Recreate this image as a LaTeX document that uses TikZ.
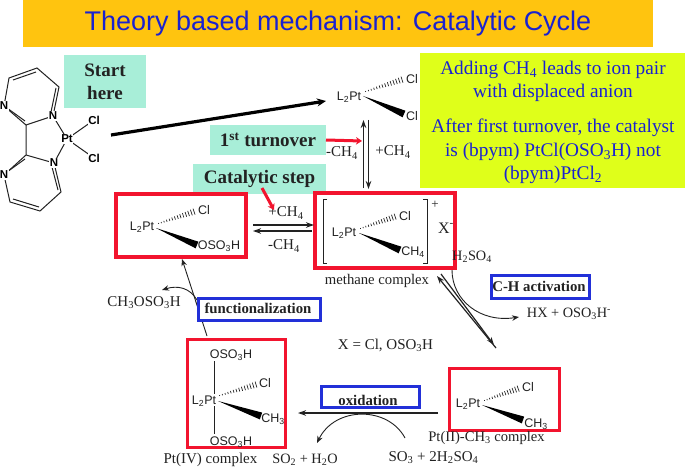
\documentclass[tikz,border=0pt]{standalone}
\usepackage{fontspec}
\setmainfont{Liberation Serif}
\setsansfont{Liberation Sans}
\usetikzlibrary{calc,arrows.meta}
\definecolor{titlebg}{HTML}{FFC40F}
\definecolor{titleblue}{HTML}{1A22D0}
\definecolor{mint}{HTML}{A8EED8}
\definecolor{lemon}{HTML}{DFFF1A}
\definecolor{boxred}{HTML}{F2142E}
\definecolor{boxblue}{HTML}{2230D8}
\definecolor{ink}{HTML}{222222}
\newcommand{\fsz}[1]{\fontsize{#1}{#1}\selectfont}
\newcommand{\sbs}[1]{\textsubscript{#1}}
\newcommand{\hashbond}[2]{%
  \foreach \t in {0.04,0.11,...,1.0}{%
    \coordinate (hp) at ($(#1)!\t!(#2)$);
    \pgfmathsetmacro{\hw}{0.3+3.0*\t}
    \draw[ink,line width=0.7pt] ($(hp)!\hw pt!90:(#2)$) -- ($(hp)!\hw pt!-90:(#2)$);
  }}
\newcommand{\wedgebond}[2]{%
  \fill[black] (#1) -- ($(#2)!3.6pt!90:(#1)$) -- ($(#2)!3.6pt!-90:(#1)$) -- cycle;}
\tikzset{
  x=1pt,y=-1pt,
  every node/.style={inner sep=0pt,outer sep=0pt,text=ink},
  redbox/.style={draw=boxred,line width=3.6pt,fill=none,shape=rectangle},
  bluebox/.style={draw=boxblue,line width=3pt,fill=white,shape=rectangle},
  mintbox/.style={fill=mint,shape=rectangle,align=center,font=\fsz{19}\bfseries,text=ink},
  sanslab/.style={font=\sffamily\fsz{12.5},text=ink},
  atomlab/.style={font=\sffamily\bfseries\fsz{11.5},text=black,fill=white,inner sep=0.6pt},
  serlab/.style={font=\fsz{15},text=ink},
  serlabs/.style={font=\fsz{14.3},text=ink},
  boxlab/.style={font=\fsz{14.8}\bfseries,text=ink},
  lemontext/.style={font=\fsz{19.3},text=titleblue},
  thinarrow/.style={ink,line width=0.9pt,-{Stealth[length=7pt,width=5.5pt]}},
  eqarrow/.style={ink,line width=1.2pt,-{Stealth[length=8pt,width=5.5pt]}},
  redarrow/.style={boxred,line width=3pt,-{Stealth[length=6pt,width=7.5pt]}},
  ringbond/.style={ink,line width=1pt},
}
\begin{document}
\begin{tikzpicture}
\useasboundingbox (0,0) rectangle (685,468);
\fill[white] (0,0) rectangle (685,468);
% title
\node[fill=titlebg,minimum width=630pt,minimum height=47pt] (titlebar) at (338,23.5) {};
\node[font=\sffamily\fsz{27},text=titleblue] (title) at (338,24) {Theory based mechanism: Catalytic Cycle};
% yellow box
\node[fill=lemon,minimum width=265pt,minimum height=135pt] (yellow) at (552.5,120.5) {};
\node[lemontext] (y1) at (553,70) {Adding CH\sbs{4} leads to ion pair};
\node[lemontext] (y2) at (553,93) {with displaced anion};
\node[lemontext] (y3) at (553,128) {After first turnover, the catalyst};
\node[lemontext] (y4) at (553,151.5) {is (bpym) PtCl(OSO\sbs{3}H) not};
\node[lemontext] (y5) at (553,175) {(bpym)PtCl\sbs{2}};
% bipyrimidine
\foreach \n/\x/\y in {a/9/78,b/37/68,c/59/87,d/53/116,e/26/125,f/4/106,g/26/155,h/4/175,i/10/202,j/40/211,k/61/192,l/54/163,pt/67/139,cla/94/120,clb/94/158}{\coordinate (\n) at (\x,\y);}
\draw[ringbond] (f)--(a)--(b)--(c)--(d)--(e)--(f) (e)--(g)--(h)--(i)--(j)--(k)--(l)--(g);
\draw[ringbond] (13,80)--(36,72) (56,88)--(51,112) (7,108)--(25,121) (7,172)--(25,159) (13,199)--(39,207) (58,190)--(52,167);
\draw[ringbond] (d)--(pt)--(l) (pt)--(cla) (pt)--(clb);
\node[atomlab] at (f) {N};
\node[atomlab] at (d) {N};
\node[atomlab] at (h) {N};
\node[atomlab] at (l) {N};
\node[atomlab] (ptatom) at (pt) {Pt};
\node[atomlab] at (cla) {Cl};
\node[atomlab] at (clb) {Cl};
% mint labels
\node[mintbox,minimum width=82pt,minimum height=53pt] (start) at (105,81.5) {Start\\[4pt]here};
\node[mintbox,minimum width=116pt,minimum height=30pt] (first) at (268,140) {1\textsuperscript{st} turnover};
\node[mintbox,minimum width=133pt,minimum height=30pt] (catal) at (259.5,179) {Catalytic step};
% starting arrow
\coordinate (bigs) at (111,135);
\coordinate (bige) at (326,101);
\draw[black,line width=3.2pt,-{Stealth[length=9pt,width=8pt]}] (bigs) -- (bige);
% top complex
\node[sanslab] (lpta) at (349,97) {L\sbs{2}Pt};
\coordinate (ha) at (364,92); \coordinate (hb) at (404,79);
\hashbond{ha}{hb}
\node[sanslab] (cl1) at (412,79) {Cl};
\coordinate (wa) at (363,96); \coordinate (wb) at (404,114);
\wedgebond{wa}{wb}
\node[sanslab] (cl2) at (412,116) {Cl};
% vertical equilibrium
\coordinate (vu1) at (363.5,188); \coordinate (vu2) at (363.5,120);
\coordinate (vd1) at (368.5,120); \coordinate (vd2) at (368.5,189);
\draw[eqarrow] (vu1) -- (vu2);
\draw[eqarrow] (vd1) -- (vd2);
\coordinate (ra) at (first.east);
\coordinate (rb) at (362,141);
\draw[redarrow] (ra) -- (rb);
\node[serlab] (mch) at (342,153) {-CH\sbs{4}};
\node[serlab] (pch) at (393,152) {+CH\sbs{4}};
% left complex
\node[redbox,minimum width=130pt,minimum height=63pt] (boxa) at (181,225.5) {};
\node[sanslab] (lptb) at (142,227) {L\sbs{2}Pt};
\coordinate (hc) at (157,224); \coordinate (hd) at (196,211);
\hashbond{hc}{hd}
\node[sanslab] (cl3) at (204,210) {Cl};
\coordinate (wc) at (156,228); \coordinate (wd) at (197,245);
\wedgebond{wc}{wd}
\node[sanslab] (oso1) at (219,246) {OSO\sbs{3}H};
% methane complex
\node[redbox,minimum width=140pt,minimum height=75pt] (boxb) at (385,230.5) {};
\node[sanslab] (lptc) at (344,233) {L\sbs{2}Pt};
\coordinate (he) at (359,229); \coordinate (hf) at (397,216);
\hashbond{he}{hf}
\node[sanslab] (cl4) at (405,216) {Cl};
\coordinate (we) at (359,233); \coordinate (wf) at (400,250);
\wedgebond{we}{wf}
\node[sanslab] (ch4) at (413,252) {CH\sbs{4}};
\draw[ink,line width=1pt] (327,199)--(323,199)--(323,263)--(327,263);
\draw[ink,line width=1pt] (423,199)--(427,199)--(427,263)--(423,263);
\node[font=\fsz{13},text=ink] (plus) at (435,205) {+};
\node[font=\fsz{16},text=ink] (xm) at (446,228) {X\textsuperscript{-}};
% horizontal equilibrium
\coordinate (h1) at (253,225); \coordinate (h2) at (314,225);
\coordinate (h3) at (312,231); \coordinate (h4) at (253,231);
\draw[eqarrow] (h1) -- (h2);
\draw[eqarrow] (h3) -- (h4);
\node[serlab] (pch2) at (286,213) {+CH\sbs{4}};
\node[serlab] (mch2) at (284,246) {-CH\sbs{4}};
\coordinate (rc) at (262,188); \coordinate (rd) at (274,210);
\draw[redarrow] (rc) -- (rd);
\node[serlabs] (h2so) at (472,257) {H\sbs{2}SO\sbs{4}};
\node[font=\fsz{14.7},text=ink] (meth) at (377,281) {methane complex};
% C-H activation
\coordinate (ca) at (452,270); \coordinate (cb) at (519,317);
\draw[thinarrow] (ca) .. controls (452,300) and (480,323) .. (cb);
\node[bluebox,minimum width=98pt,minimum height=23pt] (chbox) at (540,286.5) {};
\node[boxlab] (chlab) at (539,286) {C-H activation};
\node[serlabs] (hx) at (569,314) {HX + OSO\sbs{3}H\textsuperscript{-}};
% diagonal equilibrium
\coordinate (d1) at (441,274); \coordinate (d2) at (494,345);
\coordinate (d3) at (496,348); \coordinate (d4) at (437,276);
\draw[eqarrow] (d1) -- (d2);
\draw[eqarrow] (d3) -- (d4);
\node[serlab] (xeq) at (385.5,345) {X = Cl, OSO\sbs{3}H};
% Pt(II)
\node[redbox,minimum width=110pt,minimum height=62pt] (boxc) at (504.5,399.5) {};
\node[sanslab] (lptd) at (468,404) {L\sbs{2}Pt};
\coordinate (hg) at (483,401); \coordinate (hh) at (520,388);
\hashbond{hg}{hh}
\node[sanslab] (cl5) at (528,387) {Cl};
\coordinate (wg) at (482,405); \coordinate (wh) at (523,420);
\wedgebond{wg}{wh}
\node[sanslab] (ch3a) at (536,424) {CH\sbs{3}};
\node[font=\fsz{14.6},text=ink] (pt2) at (486.5,438) {Pt(II)-CH\sbs{3} complex};
% oxidation
\node[bluebox,minimum width=98pt,minimum height=21pt] (oxbox) at (370.5,397) {};
\node[boxlab] (oxlab) at (368,400) {oxidation};
\coordinate (oa) at (438,413); \coordinate (ob) at (298,413);
\draw[eqarrow] (oa) -- (ob);
\coordinate (pa) at (405,438); \coordinate (pb) at (317,443);
\draw[thinarrow] (pa) .. controls (388,406) and (335,406) .. (pb);
\node[serlab] (so3) at (433.5,458) {SO\sbs{3} + 2H\sbs{2}SO\sbs{4}};
\node[serlabs] (so2) at (305,460) {SO\sbs{2} + H\sbs{2}O};
% Pt(IV)
\node[redbox,minimum width=98pt,minimum height=108pt] (boxd) at (236.5,393.5) {};
\node[sanslab] (osot) at (231,355) {OSO\sbs{3}H};
\node[sanslab] (lpte) at (204,401) {L\sbs{2}Pt};
\node[sanslab] (osob) at (231,442) {OSO\sbs{3}H};
\draw[ink,line width=0.9pt] (214,361) -- (214,394) (214,406) -- (214,434);
\coordinate (hi) at (218,396); \coordinate (hj) at (258,384);
\hashbond{hi}{hj}
\node[sanslab] (cl6) at (265,383) {Cl};
\coordinate (wi) at (218,401); \coordinate (wj) at (261,416);
\wedgebond{wi}{wj}
\node[sanslab] (ch3b) at (273,419) {CH\sbs{3}};
\node[serlab] (pt4) at (210.5,460) {Pt(IV) complex};
% functionalization
\coordinate (fa) at (207,336); \coordinate (fb) at (182,259);
\draw[thinarrow] (fa) -- (fb);
\coordinate (ga) at (197,300); \coordinate (gb) at (162,290);
\draw[thinarrow] (ga) .. controls (190,288) and (178,285) .. (gb);
\node[bluebox,minimum width=122pt,minimum height=22pt] (fnbox) at (259.5,309.5) {};
\node[boxlab] (fnlab) at (258,308) {functionalization};
\node[serlab] (ch3o) at (144,303) {CH\sbs{3}OSO\sbs{3}H};
\end{tikzpicture}
\end{document}
